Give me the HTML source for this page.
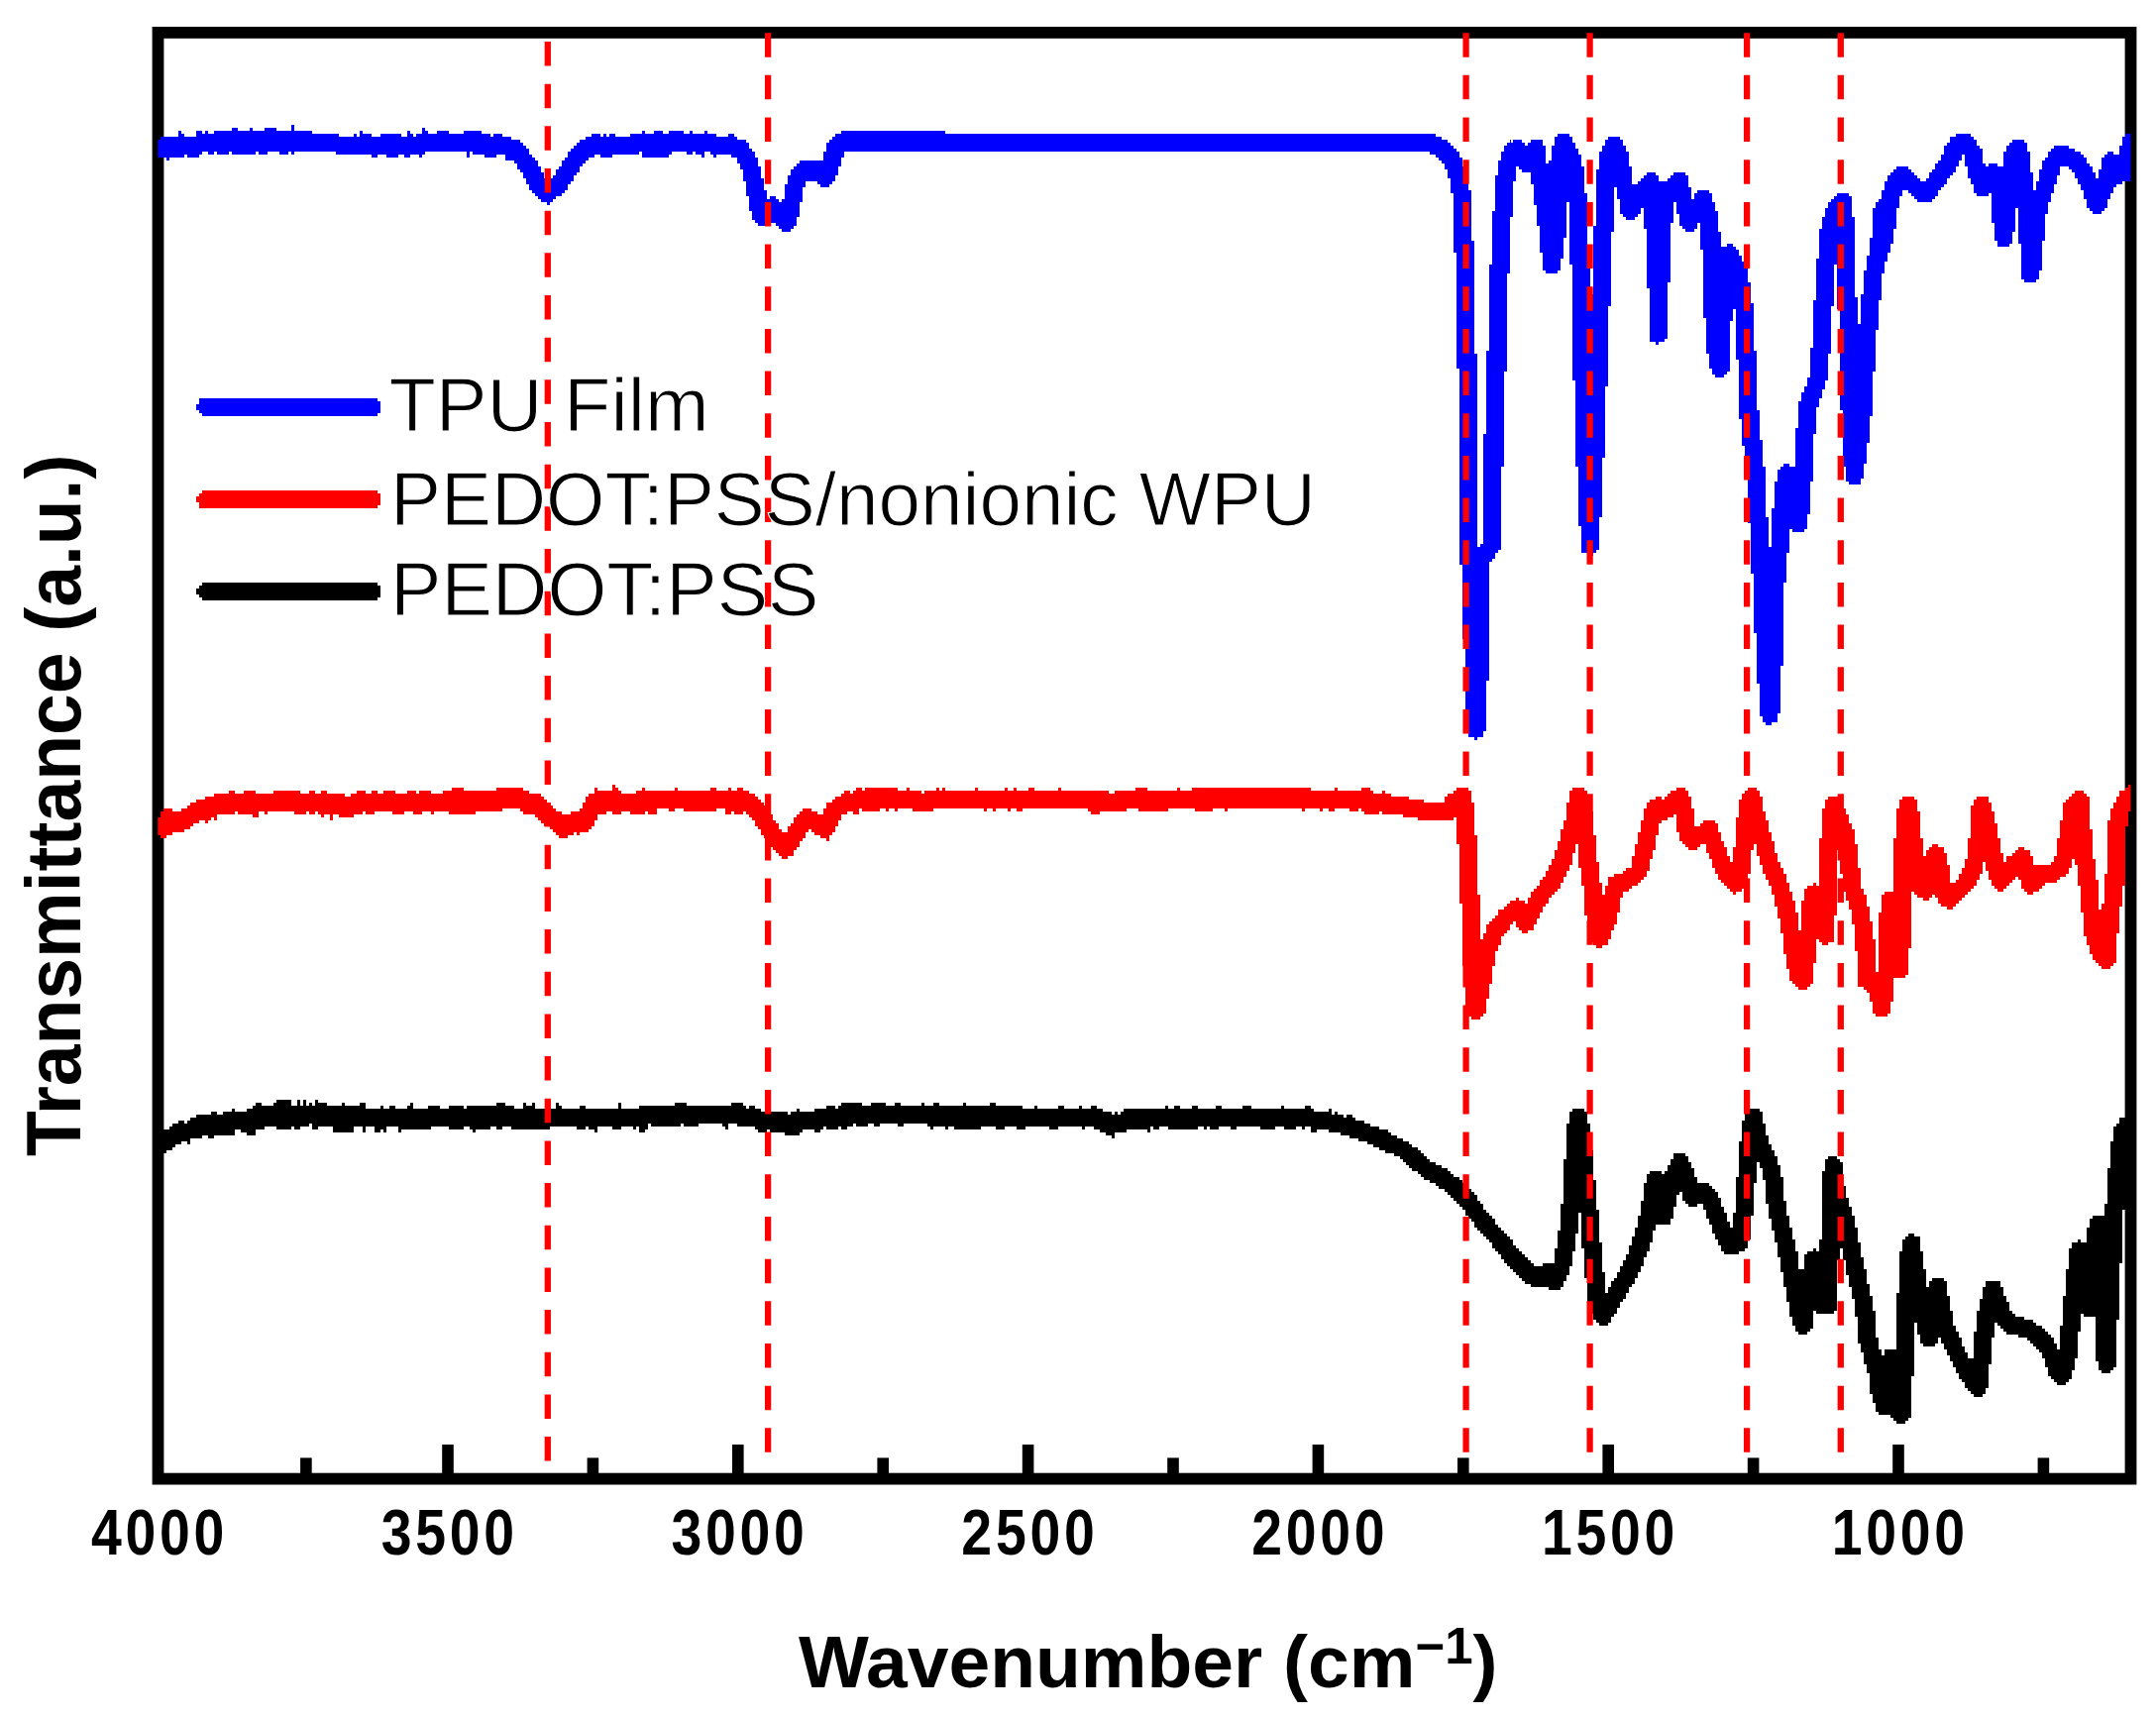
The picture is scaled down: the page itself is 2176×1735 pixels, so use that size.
<!DOCTYPE html>
<html><head><meta charset="utf-8"><title>FTIR spectra</title>
<style>html,body{margin:0;padding:0;background:#fff}svg{display:block}</style></head>
<body>
<svg width="2176" height="1735" viewBox="0 0 2176 1735">
<rect x="0" y="0" width="2176" height="1735" fill="#fff"/>
<rect x="159.5" y="32.9" width="1991.0" height="1459.6999999999998" fill="none" stroke="#000" stroke-width="11.8" stroke-linejoin="miter"/>
<rect x="446.2" y="1458" width="11.6" height="31" fill="#000"/>
<rect x="739.0" y="1458" width="11.6" height="31" fill="#000"/>
<rect x="1031.8" y="1458" width="11.6" height="31" fill="#000"/>
<rect x="1324.6" y="1458" width="11.6" height="31" fill="#000"/>
<rect x="1617.4" y="1458" width="11.6" height="31" fill="#000"/>
<rect x="1910.2" y="1458" width="11.6" height="31" fill="#000"/>
<rect x="303.1" y="1471.4" width="11.6" height="17" fill="#000"/>
<rect x="592.6" y="1471.4" width="11.6" height="17" fill="#000"/>
<rect x="885.4" y="1471.4" width="11.6" height="17" fill="#000"/>
<rect x="1178.2" y="1471.4" width="11.6" height="17" fill="#000"/>
<rect x="1471.0" y="1471.4" width="11.6" height="17" fill="#000"/>
<rect x="1763.8" y="1471.4" width="11.6" height="17" fill="#000"/>
<rect x="2056.6" y="1471.4" width="11.6" height="17" fill="#000"/>
<clipPath id="cl"><rect x="159.3" y="0" width="1991.2" height="1735"/></clipPath><filter id="px" filterUnits="userSpaceOnUse" x="150" y="90" width="2010" height="1380" color-interpolation-filters="sRGB"><feFlood x="151" y="91" width="1" height="1"/><feComposite width="3" height="3"/><feTile result="a"/><feComposite in="SourceGraphic" in2="a" operator="in"/><feMorphology operator="dilate" radius="1"/></filter><g clip-path="url(#cl)"><g filter="url(#px)" shape-rendering="crispEdges">
<path d="M159.2,1144.4V1144.4H162.3V1142.9H165.3V1138.5H168.4V1140.2H171.4V1138.9H174.5V1134.4H177.6V1133.1H180.6V1131.7H183.7V1130.8H186.7V1132.9H189.8V1132.0H192.9V1128.1H195.9V1127.2H199.0V1126.3H202.1V1125.4H205.1V1124.8H208.2V1124.3H211.2V1123.8H214.3V1123.2H217.4V1122.7H220.4V1125.3H223.5V1121.7H226.5V1121.2H229.6V1120.7H232.7V1120.3H235.7V1122.9H238.8V1122.4H241.9V1122.0H244.9V1121.5H248.0V1118.0H251.0V1117.6H254.1V1117.1H257.2V1113.6H260.2V1113.1H263.3V1115.8H266.3V1115.5H269.4V1115.2H272.5V1114.9H275.5V1111.5H278.6V1111.2H281.6V1110.9H284.7V1110.6H287.8V1110.3H290.8V1110.0H293.9V1115.9H297.0V1115.8H300.0V1109.7H303.1V1115.8H306.1V1109.7H309.2V1115.8H312.3V1112.7H315.3V1115.8H318.4V1109.7H321.4V1112.7H324.5V1112.7H327.6V1112.8H330.6V1116.2H333.7V1116.6H336.8V1116.9H339.8V1117.3H342.9V1117.7H345.9V1111.9H349.0V1115.3H352.1V1115.7H355.1V1116.0H358.2V1116.4H361.2V1116.5H364.3V1113.4H367.4V1113.4H370.4V1119.5H373.5V1119.5H376.6V1119.5H379.6V1119.5H382.7V1116.4H385.7V1119.4H388.8V1119.4H391.9V1116.3H394.9V1116.3H398.0V1119.3H401.0V1119.3H404.1V1119.3H407.2V1119.2H410.2V1116.2H413.3V1113.1H416.4V1119.2H419.4V1119.2H422.5V1119.1H425.5V1119.1H428.6V1119.1H431.7V1116.0H434.7V1116.0H437.8V1116.0H440.8V1115.9H443.9V1118.9H447.0V1118.8H450.0V1118.8H453.1V1115.6H456.1V1115.6H459.2V1115.5H462.3V1115.4H465.3V1115.3H468.4V1118.3H471.5V1115.2H474.5V1115.1H477.6V1115.0H480.6V1114.9H483.7V1114.9H486.8V1114.8H489.8V1114.7H492.9V1114.6H495.9V1114.6H499.0V1114.5H502.1V1114.4H505.1V1114.3H508.2V1114.4H511.3V1117.5H514.3V1117.5H517.4V1114.5H520.4V1117.6H523.5V1117.6H526.6V1111.6H529.6V1114.7H532.7V1114.7H535.7V1111.7H538.8V1117.9H541.9V1117.9H544.9V1117.9H548.0V1118.0H551.1V1118.0H554.1V1118.1H557.2V1118.1H560.2V1112.0H563.3V1115.1H566.4V1118.2H569.4V1118.3H572.5V1118.3H575.5V1118.3H578.6V1118.3H581.7V1118.3H584.7V1115.2H587.8V1115.2H590.9V1118.3H593.9V1118.3H597.0V1118.3H600.0V1118.3H603.1V1118.3H606.2V1118.3H609.2V1118.3H612.3V1118.3H615.3V1118.3H618.4V1118.3H621.5V1118.3H624.5V1112.2H627.6V1118.3H630.6V1118.3H633.7V1118.3H636.8V1118.2H639.8V1117.9H642.9V1117.7H646.0V1117.4H649.0V1117.1H652.1V1116.9H655.1V1116.6H658.2V1116.3H661.3V1116.1H664.3V1115.8H667.4V1115.5H670.4V1115.3H673.5V1115.0H676.6V1114.8H679.6V1114.5H682.7V1114.2H685.8V1114.2H688.8V1114.3H691.9V1114.5H694.9V1114.6H698.0V1114.8H701.1V1115.0H704.1V1115.1H707.2V1115.3H710.2V1115.4H713.3V1115.6H716.4V1115.7H719.4V1115.9H722.5V1116.0H725.6V1116.2H728.6V1116.4H731.7V1116.5H734.7V1116.7H737.8V1113.8H740.9V1113.9H743.9V1114.1H747.0V1114.2H750.0V1114.5H753.1V1118.1H756.2V1115.6H759.2V1116.2H762.3V1119.8H765.4V1120.4H768.4V1121.0H771.5V1121.5H774.5V1122.3H777.6V1123.2H780.7V1121.0H783.7V1121.8H786.8V1122.7H789.8V1122.7H792.9V1122.2H796.0V1124.7H799.0V1121.1H802.1V1120.6H805.1V1120.1H808.2V1122.6H811.3V1122.1H814.3V1121.6H817.4V1121.1H820.5V1120.6H823.5V1120.1H826.6V1119.7H829.6V1119.2H832.7V1115.8H835.8V1115.5H838.8V1115.2H841.9V1118.0H844.9V1114.7H848.0V1114.4H851.1V1114.2H854.1V1113.9H857.2V1113.6H860.3V1113.3H863.3V1113.1H866.4V1112.8H869.4V1115.6H872.5V1115.3H875.6V1115.0H878.6V1111.7H881.7V1114.5H884.7V1114.2H887.8V1114.2H890.9V1114.4H893.9V1114.5H897.0V1114.7H900.1V1114.9H903.1V1112.0H906.2V1112.2H909.2V1115.4H912.3V1115.6H915.4V1115.8H918.4V1115.9H921.5V1116.1H924.5V1116.3H927.6V1116.4H930.7V1113.6H933.7V1116.8H936.8V1117.0H939.8V1117.1H942.9V1114.3H946.0V1114.3H949.0V1117.4H952.1V1117.4H955.2V1117.4H958.2V1117.4H961.3V1117.4H964.3V1117.4H967.4V1117.4H970.5V1114.3H973.5V1117.4H976.6V1117.4H979.6V1117.4H982.7V1117.4H985.8V1117.4H988.8V1117.4H991.9V1117.4H995.0V1117.4H998.0V1114.3H1001.1V1114.3H1004.1V1117.4H1007.2V1117.4H1010.3V1117.4H1013.3V1117.4H1016.4V1117.4H1019.4V1117.4H1022.5V1117.4H1025.6V1117.4H1028.6V1117.5H1031.7V1117.5H1034.8V1117.6H1037.8V1117.7H1040.9V1117.7H1043.9V1114.7H1047.0V1117.8H1050.1V1117.9H1053.1V1118.0H1056.2V1118.0H1059.2V1118.1H1062.3V1118.2H1065.4V1118.2H1068.4V1115.2H1071.5V1115.3H1074.6V1118.4H1077.6V1118.5H1080.7V1118.5H1083.7V1118.6H1086.8V1118.7H1089.9V1115.7H1092.9V1118.8H1096.0V1118.8H1099.0V1118.9H1102.1V1115.9H1105.2V1116.8H1108.2V1118.3H1111.3V1119.8H1114.3V1121.3H1117.4V1122.8H1120.5V1123.8H1123.5V1122.8H1126.6V1124.9H1129.7V1123.9H1132.7V1119.8H1135.8V1118.8H1138.8V1117.7H1141.9V1117.5H1145.0V1120.4H1148.0V1120.4H1151.1V1120.3H1154.1V1120.2H1157.2V1120.1H1160.3V1120.0H1163.3V1119.9H1166.4V1119.8H1169.5V1119.7H1172.5V1119.7H1175.6V1116.5H1178.6V1119.5H1181.7V1119.4H1184.8V1116.3H1187.8V1116.2H1190.9V1119.1H1193.9V1119.1H1197.0V1119.0H1200.1V1118.9H1203.1V1115.7H1206.2V1115.6H1209.3V1118.6H1212.3V1118.5H1215.4V1118.4H1218.4V1118.4H1221.5V1118.3H1224.6V1118.3H1227.6V1115.2H1230.7V1115.2H1233.7V1118.3H1236.8V1118.3H1239.9V1118.3H1242.9V1118.3H1246.0V1118.3H1249.1V1118.3H1252.1V1118.3H1255.2V1115.2H1258.2V1115.2H1261.3V1115.2H1264.4V1118.3H1267.4V1118.3H1270.5V1118.3H1273.5V1118.3H1276.6V1118.3H1279.7V1118.3H1282.7V1118.3H1285.8V1118.3H1288.8V1118.3H1291.9V1115.2H1295.0V1118.3H1298.0V1118.3H1301.1V1118.3H1304.2V1118.3H1307.2V1118.3H1310.3V1118.3H1313.3V1118.6H1316.4V1116.1H1319.5V1116.6H1322.5V1120.2H1325.6V1120.7H1328.6V1121.2H1331.7V1121.7H1334.8V1122.2H1337.8V1122.8H1340.9V1120.2H1344.0V1123.8H1347.0V1121.7H1350.1V1125.6H1353.1V1126.6H1356.2V1127.5H1359.3V1125.3H1362.3V1126.3H1365.4V1127.2H1368.4V1131.2H1371.5V1132.1H1374.6V1133.0H1377.6V1134.1H1380.7V1135.5H1383.8V1136.9H1386.8V1138.3H1389.9V1139.7H1392.9V1141.1H1396.0V1142.5H1399.1V1140.9H1402.1V1142.3H1405.2V1146.7H1408.2V1148.1H1411.3V1149.5H1414.4V1150.9H1417.4V1153.1H1420.5V1155.7H1423.6V1158.3H1426.6V1160.9H1429.7V1163.4H1432.7V1166.0H1435.8V1168.6H1438.9V1187.0H1435.8V1184.4H1432.7V1181.8H1429.7V1179.3H1426.6V1176.7H1423.6V1174.1H1420.5V1171.5H1417.4V1169.3H1414.4V1167.9H1411.3V1166.5H1408.2V1165.1H1405.2V1163.7H1402.1V1162.3H1399.1V1160.9H1396.0V1159.5H1392.9V1158.1H1389.9V1156.7H1386.8V1155.3H1383.8V1153.9H1380.7V1152.5H1377.6V1151.4H1374.6V1150.5H1371.5V1149.6H1368.4V1148.7H1365.4V1147.7H1362.3V1146.8H1359.3V1145.9H1356.2V1145.0H1353.1V1144.0H1350.1V1143.1H1347.0V1142.2H1344.0V1141.7H1340.9V1141.2H1337.8V1140.6H1334.8V1140.1H1331.7V1139.6H1328.6V1142.2H1325.6V1141.6H1322.5V1138.1H1319.5V1137.5H1316.4V1140.1H1313.3V1136.7H1310.3V1136.7H1307.2V1139.8H1304.2V1139.8H1301.1V1139.8H1298.0V1139.8H1295.0V1136.7H1291.9V1136.7H1288.8V1136.7H1285.8V1139.8H1282.7V1139.8H1279.7V1139.8H1276.6V1139.8H1273.5V1139.8H1270.5V1136.7H1267.4V1136.7H1264.4V1136.7H1261.3V1136.7H1258.2V1136.7H1255.2V1136.7H1252.1V1136.7H1249.1V1139.8H1246.0V1139.8H1242.9V1136.7H1239.9V1136.7H1236.8V1136.7H1233.7V1136.7H1230.7V1139.8H1227.6V1139.8H1224.6V1139.8H1221.5V1136.8H1218.4V1139.9H1215.4V1136.9H1212.3V1137.0H1209.3V1140.2H1206.2V1140.3H1203.1V1140.3H1200.1V1140.4H1197.0V1140.5H1193.9V1140.6H1190.9V1140.7H1187.8V1140.8H1184.8V1140.9H1181.7V1140.9H1178.6V1138.0H1175.6V1138.1H1172.5V1138.1H1169.5V1141.3H1166.4V1141.4H1163.3V1138.4H1160.3V1141.6H1157.2V1138.6H1154.1V1138.7H1151.1V1138.8H1148.0V1138.8H1145.0V1138.9H1141.9V1139.2H1138.8V1140.2H1135.8V1144.3H1132.7V1142.3H1129.7V1143.3H1126.6V1144.3H1123.5V1148.4H1120.5V1147.3H1117.4V1142.8H1114.3V1141.3H1111.3V1139.7H1108.2V1138.2H1105.2V1137.4H1102.1V1137.3H1099.0V1137.2H1096.0V1140.2H1092.9V1137.1H1089.9V1137.1H1086.8V1137.0H1083.7V1136.9H1080.7V1136.9H1077.6V1136.8H1074.6V1136.7H1071.5V1136.7H1068.4V1139.7H1065.4V1139.6H1062.3V1139.6H1059.2V1136.4H1056.2V1136.4H1053.1V1136.3H1050.1V1136.2H1047.0V1136.2H1043.9V1136.1H1040.9V1136.1H1037.8V1136.0H1034.8V1139.0H1031.7V1138.9H1028.6V1138.9H1025.6V1135.8H1022.5V1135.8H1019.4V1135.8H1016.4V1135.8H1013.3V1138.9H1010.3V1138.9H1007.2V1138.9H1004.1V1135.8H1001.1V1135.8H998.0V1135.8H995.0V1135.8H991.9V1135.8H988.8V1138.9H985.8V1138.9H982.7V1138.9H979.6V1138.9H976.6V1138.9H973.5V1138.9H970.5V1138.9H967.4V1138.9H964.3V1135.8H961.3V1135.8H958.2V1138.9H955.2V1135.8H952.1V1135.8H949.0V1135.8H946.0V1135.7H942.9V1138.6H939.8V1138.4H936.8V1135.2H933.7V1135.0H930.7V1134.8H927.6V1134.7H924.5V1134.5H921.5V1134.3H918.4V1134.2H915.4V1134.0H912.3V1136.9H909.2V1136.7H906.2V1133.5H903.1V1133.3H900.1V1133.1H897.0V1132.9H893.9V1132.8H890.9V1132.6H887.8V1135.7H884.7V1136.0H881.7V1133.2H878.6V1133.4H875.6V1136.8H872.5V1137.0H869.4V1137.3H866.4V1137.6H863.3V1134.8H860.3V1138.1H857.2V1138.4H854.1V1138.7H851.1V1138.9H848.0V1136.2H844.9V1139.5H841.9V1139.8H838.8V1140.0H835.8V1140.3H832.7V1137.6H829.6V1141.1H826.6V1141.6H823.5V1142.1H820.5V1139.5H817.4V1140.0H814.3V1140.5H811.3V1144.1H808.2V1144.6H805.1V1145.1H802.1V1145.7H799.0V1146.2H796.0V1146.7H792.9V1144.2H789.8V1144.1H786.8V1143.3H783.7V1142.4H780.7V1141.6H777.6V1140.7H774.5V1143.0H771.5V1142.4H768.4V1141.9H765.4V1141.3H762.3V1137.7H759.2V1137.1H756.2V1136.5H753.1V1136.0H750.0V1135.7H747.0V1135.5H743.9V1135.4H740.9V1135.2H737.8V1135.1H734.7V1141.0H731.7V1137.8H728.6V1134.6H725.6V1134.4H722.5V1134.3H719.4V1134.1H716.4V1134.0H713.3V1133.8H710.2V1133.7H707.2V1133.5H704.1V1136.4H701.1V1136.3H698.0V1136.1H694.9V1136.0H691.9V1135.8H688.8V1132.6H685.8V1135.7H682.7V1136.0H679.6V1136.2H676.6V1136.5H673.5V1136.7H670.4V1137.0H667.4V1137.3H664.3V1137.5H661.3V1137.8H658.2V1135.0H655.1V1141.4H652.1V1141.7H649.0V1141.9H646.0V1136.1H642.9V1139.4H639.8V1136.6H636.8V1136.7H633.7V1136.7H630.6V1136.7H627.6V1139.8H624.5V1139.8H621.5V1139.8H618.4V1136.7H615.3V1136.7H612.3V1136.7H609.2V1136.7H606.2V1136.7H603.1V1142.8H600.0V1139.8H597.0V1139.8H593.9V1136.7H590.9V1139.8H587.8V1139.8H584.7V1139.8H581.7V1136.7H578.6V1136.7H575.5V1136.7H572.5V1136.7H569.4V1136.6H566.4V1136.6H563.3V1136.6H560.2V1136.5H557.2V1136.5H554.1V1139.5H551.1V1139.5H548.0V1139.4H544.9V1139.4H541.9V1139.3H538.8V1139.3H535.7V1139.2H532.7V1139.2H529.6V1139.2H526.6V1139.1H523.5V1139.1H520.4V1139.0H517.4V1135.9H514.3V1135.9H511.3V1135.8H508.2V1138.9H505.1V1138.9H502.1V1136.0H499.0V1136.0H495.9V1139.2H492.9V1139.2H489.8V1139.3H486.8V1139.4H483.7V1139.5H480.6V1142.6H477.6V1139.6H474.5V1136.6H471.5V1136.7H468.4V1139.8H465.3V1139.9H462.3V1140.0H459.2V1140.1H456.1V1140.2H453.1V1137.2H450.0V1137.2H447.0V1137.3H443.9V1137.4H440.8V1137.4H437.8V1137.4H434.7V1140.5H431.7V1140.5H428.6V1140.6H425.5V1140.6H422.5V1140.6H419.4V1140.6H416.4V1140.7H413.3V1140.7H410.2V1140.7H407.2V1140.7H404.1V1143.8H401.0V1137.7H398.0V1137.7H394.9V1137.8H391.9V1137.8H388.8V1143.9H385.7V1140.9H382.7V1144.0H379.6V1144.0H376.6V1137.9H373.5V1137.9H370.4V1144.1H367.4V1138.0H364.3V1138.0H361.2V1137.8H358.2V1143.6H355.1V1143.3H352.1V1142.9H349.0V1142.5H345.9V1142.2H342.9V1141.8H339.8V1141.5H336.8V1138.0H333.7V1137.7H330.6V1137.3H327.6V1137.3H324.5V1137.3H321.4V1140.3H318.4V1140.3H315.3V1134.2H312.3V1137.3H309.2V1137.3H306.1V1137.3H303.1V1140.3H300.0V1140.3H297.0V1137.3H293.9V1140.7H290.8V1141.0H287.8V1141.3H284.7V1138.5H281.6V1138.8H278.6V1136.1H275.5V1136.4H272.5V1136.7H269.4V1137.0H266.3V1140.3H263.3V1140.7H260.2V1141.2H257.2V1144.7H254.1V1145.1H251.0V1145.6H248.0V1143.0H244.9V1143.4H241.9V1140.8H238.8V1141.3H235.7V1144.8H232.7V1145.2H229.6V1145.7H226.5V1146.3H223.5V1146.8H220.4V1147.3H217.4V1147.8H214.3V1148.3H211.2V1145.7H208.2V1146.2H205.1V1146.9H202.1V1147.8H199.0V1148.7H195.9V1149.6H192.9V1153.5H189.8V1151.3H186.7V1152.2H183.7V1153.2H180.6V1154.5H177.6V1155.9H174.5V1160.3H171.4V1161.7H168.4V1163.0H165.3V1164.4H162.3V1162.8H159.2Z" fill="#000"/>
<path d="M160.0,1154.0 L163.0,1152.5 L182.5,1143.8 L205.0,1137.3 L231.0,1133.0 L263.6,1128.2 L296.0,1125.0 L328.6,1125.0 L361.0,1128.8 L442.0,1128.2 L507.0,1126.6 L572.0,1127.5 L637.0,1127.5 L685.7,1123.3 L750.6,1126.6 L773.4,1130.8 L789.6,1135.3 L815.6,1130.8 L832.5,1128.2 L887.7,1123.3 L946.0,1126.6 L1027.0,1126.6 L1105.0,1128.2 L1121.4,1136.3 L1141.0,1129.8 L1222.0,1127.5 L1313.0,1127.5 L1345.5,1133.0 L1378.0,1142.8 L1416.9,1160.6 L1440.0,1180.1 L1452.6,1186.3 L1465.1,1195.8 L1479.8,1209.4 L1490.3,1224.0 L1502.8,1239.7 L1513.3,1251.3 L1523.8,1264.9 L1536.3,1277.4 L1546.8,1287.9 L1553.1,1290.6 L1561.5,1283.7 L1568.2,1294.2 L1575.1,1282.7 L1579.3,1263.8 L1583.5,1237.6 L1586.6,1207.3 L1589.1,1163.3 L1591.2,1136.1 L1592.9,1127.3 L1595.0,1138.2 L1598.5,1173.8 L1601.7,1203.1 L1604.8,1236.6 L1607.5,1268.0 L1610.7,1299.4 L1613.8,1320.4 L1618.0,1328.1 L1628.5,1310.9 L1637.9,1294.6 L1647.3,1278.5 L1654.5,1260.5 L1659.9,1243.9 L1663.7,1228.2 L1668.3,1203.1 L1670.4,1190.1 L1674.6,1207.3 L1678.3,1227.6 L1684.0,1207.3 L1690.3,1184.2 L1695.9,1172.3 L1701.8,1188.4 L1708.1,1208.7 L1719.0,1202.7 L1725.9,1209.4 L1731.1,1224.0 L1736.3,1236.6 L1741.6,1249.2 L1746.8,1258.0 L1754.1,1255.4 L1757.3,1245.0 L1760.4,1217.7 L1763.6,1178.0 L1766.7,1142.4 L1769.8,1127.3 L1773.0,1144.5 L1778.2,1159.1 L1784.5,1171.7 L1788.1,1182.1 L1791.8,1203.1 L1790.9,1205.2 L1797.4,1236.6 L1803.5,1260.6 L1809.3,1291.0 L1815.6,1324.5 L1819.8,1337.5 L1822.9,1318.2 L1830.3,1270.5 L1834.9,1295.2 L1839.3,1318.2 L1845.3,1318.2 L1846.2,1278.4 L1847.0,1236.6 L1848.7,1194.7 L1850.1,1176.5 L1851.6,1194.7 L1856.4,1215.6 L1861.7,1228.2 L1869.8,1268.0 L1874.6,1288.9 L1882.0,1320.3 L1885.1,1351.7 L1894.3,1383.1 L1897.3,1404.1 L1901.9,1419.1 L1905.6,1393.6 L1909.2,1370.2 L1914.0,1399.9 L1918.6,1428.6 L1921.8,1383.1 L1924.5,1320.3 L1925.1,1278.4 L1929.1,1255.0 L1931.2,1268.0 L1934.3,1290.0 L1939.1,1320.3 L1945.4,1345.4 L1947.5,1350.7 L1950.6,1320.3 L1955.5,1297.9 L1959.6,1320.3 L1964.3,1342.3 L1972.0,1359.1 L1980.0,1375.2 L1987.3,1388.4 L1996.1,1401.3 L1997.8,1391.5 L2000.9,1360.1 L2004.5,1330.8 L2007.8,1316.1 L2011.4,1301.1 L2015.6,1311.9 L2020.8,1326.6 L2028.1,1337.1 L2037.5,1338.7 L2048.0,1342.3 L2056.4,1348.6 L2062.7,1353.8 L2067.9,1362.2 L2073.1,1372.7 L2076.3,1383.1 L2081.5,1388.8 L2084.6,1378.9 L2087.8,1362.2 L2089.5,1341.3 L2092.6,1309.8 L2095.7,1280.5 L2098.7,1261.3 L2104.1,1291.0 L2108.7,1320.3 L2112.9,1278.4 L2117.1,1235.5 L2121.3,1299.4 L2125.9,1377.3 L2129.0,1320.3 L2132.2,1257.5 L2135.9,1194.7 L2138.2,1173.8 L2142.2,1142.3 L2150.2,1131.9" fill="none" stroke="#000" stroke-width="18.4" stroke-linejoin="round" stroke-linecap="butt"/>
<path d="M159.2,825.5V825.5H162.3V818.4H165.3V817.4H168.4V816.4H171.4V815.4H174.5V820.6H177.6V819.6H180.6V818.6H183.7V817.4H186.7V816.1H189.8V811.8H192.9V810.5H195.9V809.3H199.0V808.1H202.1V807.0H205.1V806.0H208.2V804.9H211.2V803.9H214.3V802.8H217.4V801.7H220.4V800.7H223.5V799.7H226.5V802.4H229.6V799.0H232.7V798.7H235.7V801.4H238.8V801.1H241.9V800.8H244.9V797.4H248.0V797.0H251.0V796.7H254.1V796.5H257.2V799.6H260.2V799.6H263.3V799.6H266.3V799.6H269.4V799.6H272.5V799.6H275.5V796.5H278.6V796.5H281.6V796.5H284.7V796.5H287.8V796.5H290.8V796.5H293.9V796.5H297.0V796.8H300.0V797.0H303.1V800.3H306.1V800.6H309.2V800.9H312.3V798.1H315.3V798.3H318.4V801.6H321.4V801.9H324.5V799.1H327.6V799.4H330.6V799.6H333.7V799.9H336.8V800.2H339.8V800.4H342.9V800.7H345.9V800.5H349.0V803.3H352.1V803.1H355.1V799.7H358.2V799.5H361.2V799.2H364.3V798.9H367.4V798.7H370.4V801.5H373.5V798.1H376.6V797.9H379.6V800.7H382.7V800.4H385.7V797.1H388.8V796.8H391.9V796.5H394.9V796.6H398.0V799.7H401.0V799.7H404.1V799.8H407.2V799.8H410.2V796.8H413.3V796.9H416.4V796.9H419.4V800.0H422.5V797.0H425.5V797.1H428.6V797.1H431.7V797.2H434.7V800.3H437.8V800.3H440.8V800.4H443.9V800.4H447.0V797.4H450.0V797.4H453.1V797.5H456.1V794.5H459.2V794.3H462.3V794.1H465.3V793.9H468.4V796.7H471.5V796.5H474.5V799.4H477.6V799.2H480.6V799.0H483.7V798.8H486.8V798.6H489.8V798.4H492.9V798.1H495.9V797.9H499.0V797.7H502.1V794.5H505.1V794.3H508.2V794.5H511.3V794.8H514.3V795.1H517.4V795.4H520.4V795.8H523.5V796.1H526.6V799.4H529.6V796.7H532.7V800.1H535.7V800.4H538.8V801.3H541.9V801.1H544.9V804.0H548.0V806.8H551.1V809.7H554.1V812.6H557.2V818.3H560.2V817.8H563.3V820.4H566.4V823.0H569.4V822.7H572.5V821.3H575.5V819.9H578.6V818.5H581.7V817.5H584.7V816.9H587.8V816.3H590.9V814.9H593.9V808.3H597.0V801.6H600.0V796.2H603.1V799.3H606.2V799.4H609.2V799.4H612.3V799.4H615.3V799.4H618.4V793.3H621.5V796.4H624.5V799.5H627.6V799.5H630.6V799.6H633.7V799.6H636.8V799.6H639.8V799.5H642.9V799.5H646.0V799.4H649.0V796.3H652.1V799.3H655.1V799.2H658.2V799.1H661.3V799.1H664.3V799.0H667.4V799.0H670.4V798.9H673.5V798.8H676.6V798.8H679.6V795.7H682.7V798.7H685.8V798.6H688.8V798.5H691.9V798.5H694.9V798.4H698.0V798.3H701.1V798.3H704.1V798.4H707.2V798.5H710.2V798.5H713.3V798.6H716.4V795.6H719.4V795.7H722.5V798.9H725.6V798.9H728.6V799.0H731.7V799.1H734.7V796.1H737.8V799.2H740.9V799.3H743.9V796.3H747.0V796.4H750.0V796.5H753.1V797.1H756.2V800.0H759.2V805.9H762.3V808.8H765.4V811.7H768.4V816.7H771.5V818.7H774.5V823.8H777.6V827.8H780.7V831.6H783.7V835.3H786.8V839.0H789.8V842.8H792.9V845.6H796.0V837.8H799.0V833.1H802.1V828.4H805.1V823.7H808.2V819.1H811.3V817.6H814.3V817.0H817.4V819.1H820.5V821.1H823.5V823.2H826.6V822.1H829.6V824.2H832.7V817.3H835.8V817.3H838.8V811.3H841.9V807.7H844.9V805.8H848.0V800.9H851.1V799.0H854.1V797.4H857.2V800.0H860.3V799.5H863.3V795.9H866.4V795.5H869.4V798.0H872.5V794.5H875.6V794.0H878.6V793.5H881.7V793.5H884.7V793.7H887.8V793.9H890.9V794.1H893.9V794.3H897.0V794.5H900.1V794.7H903.1V794.9H906.2V798.1H909.2V798.3H912.3V798.5H915.4V795.7H918.4V798.9H921.5V799.1H924.5V799.3H927.6V799.5H930.7V799.5H933.7V799.4H936.8V799.2H939.8V799.1H942.9V798.9H946.0V795.7H949.0V798.7H952.1V795.5H955.2V798.4H958.2V798.3H961.3V798.1H964.3V798.0H967.4V797.8H970.5V797.7H973.5V797.6H976.6V797.4H979.6V797.4H982.7V794.3H985.8V797.4H988.8V797.4H991.9V797.4H995.0V797.4H998.0V797.4H1001.1V797.4H1004.1V797.4H1007.2V797.4H1010.3V797.4H1013.3V794.3H1016.4V797.4H1019.4V797.4H1022.5V794.3H1025.6V797.4H1028.6V797.5H1031.7V797.5H1034.8V797.6H1037.8V794.6H1040.9V794.7H1043.9V797.8H1047.0V797.9H1050.1V798.0H1053.1V798.0H1056.2V798.1H1059.2V798.2H1062.3V798.3H1065.4V798.3H1068.4V795.3H1071.5V798.5H1074.6V798.5H1077.6V798.6H1080.7V798.7H1083.7V798.8H1086.8V798.8H1089.9V798.9H1092.9V799.0H1096.0V799.0H1099.0V799.1H1102.1V799.2H1105.2V799.3H1108.2V799.3H1111.3V799.4H1114.3V799.5H1117.4V799.5H1120.5V799.6H1123.5V799.5H1126.6V799.3H1129.7V799.2H1132.7V799.1H1135.8V799.0H1138.8V798.9H1141.9V798.8H1145.0V795.6H1148.0V795.5H1151.1V795.4H1154.1V795.2H1157.2V798.2H1160.3V798.1H1163.3V798.0H1166.4V797.8H1169.5V797.7H1172.5V797.6H1175.6V797.5H1178.6V797.4H1181.7V797.3H1184.8V797.1H1187.8V794.0H1190.9V796.9H1193.9V796.8H1197.0V796.7H1200.1V796.6H1203.1V796.4H1206.2V796.4H1209.3V796.4H1212.3V796.4H1215.4V796.4H1218.4V796.4H1221.5V796.4H1224.6V796.4H1227.6V796.4H1230.7V796.4H1233.7V796.4H1236.8V796.4H1239.9V796.4H1242.9V796.4H1246.0V796.4H1249.1V796.4H1252.1V796.4H1255.2V796.4H1258.2V796.4H1261.3V796.4H1264.4V796.4H1267.4V796.4H1270.5V796.4H1273.5V796.4H1276.6V796.4H1279.7V796.4H1282.7V796.4H1285.8V796.4H1288.8V796.4H1291.9V796.4H1295.0V796.4H1298.0V796.4H1301.1V796.4H1304.2V796.4H1307.2V796.4H1310.3V796.4H1313.3V796.4H1316.4V796.4H1319.5V796.5H1322.5V796.6H1325.6V796.8H1328.6V796.9H1331.7V797.1H1334.8V797.2H1337.8V797.4H1340.9V797.5H1344.0V797.7H1347.0V794.8H1350.1V798.0H1353.1V798.1H1356.2V798.3H1359.3V798.4H1362.3V798.6H1365.4V798.7H1368.4V798.9H1371.5V799.0H1374.6V796.1H1377.6V796.3H1380.7V796.4H1383.8V796.7H1386.8V800.2H1389.9V800.7H1392.9V801.2H1396.0V798.6H1399.1V823.2H1396.0V819.6H1392.9V822.2H1389.9V821.7H1386.8V821.2H1383.8V821.0H1380.7V820.8H1377.6V817.6H1374.6V817.4H1371.5V820.4H1368.4V820.2H1365.4V820.0H1362.3V816.8H1359.3V816.7H1356.2V816.5H1353.1V816.4H1350.1V816.2H1347.0V819.1H1344.0V819.0H1340.9V815.8H1337.8V815.6H1334.8V818.5H1331.7V815.3H1328.6V815.2H1325.6V815.0H1322.5V814.9H1319.5V814.8H1316.4V817.9H1313.3V814.8H1310.3V814.8H1307.2V814.8H1304.2V814.8H1301.1V814.8H1298.0V814.8H1295.0V814.8H1291.9V814.8H1288.8V814.8H1285.8V814.8H1282.7V814.8H1279.7V814.8H1276.6V814.8H1273.5V814.8H1270.5V814.8H1267.4V814.8H1264.4V814.8H1261.3V814.8H1258.2V814.8H1255.2V814.8H1252.1V814.8H1249.1V814.8H1246.0V814.8H1242.9V814.8H1239.9V817.9H1236.8V814.8H1233.7V814.8H1230.7V814.8H1227.6V814.8H1224.6V817.9H1221.5V817.9H1218.4V817.9H1215.4V817.9H1212.3V817.9H1209.3V817.9H1206.2V814.8H1203.1V815.0H1200.1V815.1H1197.0V815.2H1193.9V815.3H1190.9V815.4H1187.8V815.5H1184.8V815.7H1181.7V815.8H1178.6V818.9H1175.6V819.1H1172.5V819.2H1169.5V819.3H1166.4V819.4H1163.3V819.5H1160.3V819.6H1157.2V819.8H1154.1V819.9H1151.1V820.0H1148.0V817.0H1145.0V817.2H1141.9V817.3H1138.8V817.4H1135.8V817.5H1132.7V817.6H1129.7V817.7H1126.6V817.9H1123.5V818.0H1120.5V817.9H1117.4V817.9H1114.3V817.8H1111.3V820.8H1108.2V820.7H1105.2V820.6H1102.1V817.5H1099.0V817.4H1096.0V817.4H1092.9V817.3H1089.9V817.2H1086.8V817.2H1083.7V817.1H1080.7V817.0H1077.6V816.9H1074.6V816.9H1071.5V816.8H1068.4V816.7H1065.4V816.7H1062.3V816.6H1059.2V816.5H1056.2V816.4H1053.1V816.4H1050.1V816.3H1047.0V816.2H1043.9V816.2H1040.9V816.1H1037.8V816.0H1034.8V815.9H1031.7V818.9H1028.6V818.9H1025.6V815.8H1022.5V815.8H1019.4V818.9H1016.4V815.8H1013.3V815.8H1010.3V815.8H1007.2V815.8H1004.1V818.9H1001.1V815.8H998.0V815.8H995.0V818.9H991.9V815.8H988.8V815.8H985.8V815.8H982.7V815.8H979.6V815.8H976.6V816.0H973.5V816.1H970.5V816.2H967.4V816.4H964.3V816.5H961.3V816.7H958.2V816.8H955.2V816.9H952.1V817.1H949.0V817.2H946.0V817.3H942.9V817.5H939.8V817.6H936.8V817.8H933.7V817.9H930.7V817.9H927.6V817.7H924.5V817.5H921.5V817.3H918.4V817.1H915.4V816.9H912.3V816.7H909.2V816.5H906.2V819.4H903.1V816.1H900.1V815.9H897.0V818.8H893.9V815.5H890.9V815.3H887.8V818.2H884.7V818.0H881.7V818.0H878.6V818.5H875.6V819.0H872.5V819.5H869.4V816.9H866.4V820.5H863.3V821.0H860.3V818.4H857.2V818.9H854.1V820.5H851.1V822.3H848.0V824.2H844.9V832.2H841.9V835.8H838.8V841.8H835.8V847.9H832.7V845.6H829.6V843.6H826.6V841.6H823.5V839.5H820.5V837.5H817.4V835.4H814.3V836.0H811.3V843.7H808.2V848.2H805.1V852.9H802.1V857.6H799.0V862.3H796.0V867.1H792.9V864.2H789.8V860.5H786.8V859.8H783.7V856.1H780.7V852.3H777.6V848.4H774.5V843.3H771.5V835.1H768.4V833.1H765.4V830.3H762.3V827.4H759.2V821.5H756.2V818.6H753.1V817.9H750.0V820.9H747.0V820.8H743.9V820.8H740.9V817.6H737.8V820.6H734.7V820.5H731.7V817.4H728.6V817.3H725.6V817.3H722.5V820.2H719.4V820.2H716.4V820.1H713.3V820.0H710.2V819.9H707.2V819.9H704.1V819.8H701.1V819.8H698.0V819.9H694.9V819.9H691.9V820.0H688.8V817.0H685.8V817.1H682.7V817.1H679.6V820.2H676.6V820.3H673.5V817.3H670.4V817.4H667.4V817.4H664.3V820.5H661.3V820.6H658.2V820.7H655.1V817.7H652.1V820.8H649.0V820.9H646.0V820.9H642.9V821.0H639.8V821.0H636.8V818.0H633.7V818.0H630.6V817.9H627.6V821.0H624.5V820.9H621.5V820.9H618.4V817.8H615.3V817.8H612.3V820.8H609.2V820.8H606.2V820.8H603.1V820.8H600.0V826.2H597.0V832.8H593.9V839.4H590.9V840.8H587.8V841.4H584.7V842.0H581.7V840.0H578.6V841.4H575.5V842.8H572.5V844.2H569.4V844.4H566.4V841.8H563.3V839.2H560.2V836.7H557.2V834.1H554.1V831.2H551.1V828.3H548.0V825.4H544.9V822.6H541.9V819.7H538.8V818.8H535.7V821.5H532.7V821.2H529.6V820.9H526.6V817.5H523.5V817.2H520.4V816.9H517.4V816.6H514.3V816.3H511.3V816.0H508.2V818.8H505.1V819.0H502.1V819.2H499.0V819.4H495.9V819.6H492.9V819.8H489.8V820.0H486.8V820.2H483.7V820.4H480.6V820.6H477.6V820.8H474.5V821.1H471.5V821.3H468.4V821.5H465.3V821.7H462.3V821.9H459.2V822.1H456.1V822.0H453.1V818.9H450.0V818.9H447.0V818.8H443.9V818.8H440.8V818.7H437.8V821.7H434.7V818.6H431.7V818.6H428.6V818.5H425.5V821.5H422.5V821.5H419.4V821.4H416.4V818.3H413.3V818.3H410.2V818.2H407.2V821.2H404.1V821.2H401.0V821.2H398.0V821.1H394.9V818.0H391.9V818.3H388.8V818.5H385.7V818.8H382.7V819.1H379.6V819.3H376.6V822.7H373.5V822.9H370.4V820.1H367.4V820.4H364.3V820.7H361.2V820.9H358.2V824.3H355.1V824.5H352.1V824.8H349.0V825.0H345.9V825.2H342.9V821.9H339.8V821.6H336.8V827.5H333.7V821.1H330.6V820.8H327.6V823.6H324.5V823.4H321.4V820.0H318.4V822.8H315.3V822.6H312.3V819.3H309.2V822.1H306.1V821.8H303.1V821.5H300.0V821.3H297.0V818.0H293.9V818.0H290.8V818.0H287.8V818.0H284.7V818.0H281.6V818.0H278.6V818.0H275.5V818.0H272.5V818.0H269.4V821.1H266.3V818.0H263.3V818.0H260.2V824.1H257.2V824.1H254.1V821.2H251.0V821.6H248.0V821.9H244.9V822.2H241.9V822.6H238.8V819.8H235.7V823.2H232.7V820.5H229.6V820.8H226.5V821.2H223.5V822.2H220.4V829.3H217.4V824.3H214.3V828.4H211.2V829.5H208.2V827.4H205.1V828.5H202.1V829.6H199.0V830.7H195.9V832.0H192.9V836.3H189.8V837.6H186.7V838.8H183.7V840.1H180.6V841.1H177.6V839.0H174.5V843.0H171.4V844.0H168.4V845.0H165.3V846.0H162.3V843.9H159.2Z" fill="#ff0000"/>
<path d="M159.7,835.0 L182.5,827.7 L198.7,821.0 L224.7,812.0 L254.0,808.8 L296.0,808.8 L345.0,813.0 L393.5,808.8 L458.0,809.8 L507.0,806.5 L539.6,809.8 L555.8,825.0 L568.8,836.0 L581.8,830.0 L592.0,828.0 L598.0,815.0 L601.0,808.5 L637.0,808.8 L702.0,807.5 L754.0,808.8 L767.0,821.0 L776.6,837.0 L793.0,857.0 L806.0,837.0 L814.0,825.0 L832.0,837.0 L841.6,818.0 L855.0,809.8 L881.0,805.6 L930.0,808.8 L978.6,806.6 L1027.0,806.6 L1121.4,808.8 L1205.8,805.6 L1319.5,805.6 L1384.4,808.8 L1416.9,814.0 L1436.4,818.0 L1459.0,818.6 L1461.7,818.4 L1468.4,808.4 L1476.7,804.1 L1479.7,831.8 L1482.7,890.2 L1485.8,960.4 L1488.4,1002.1 L1490.1,1019.8 L1494.9,993.8 L1497.8,977.1 L1501.1,960.4 L1508.6,940.3 L1520.6,925.3 L1531.0,916.5 L1540.2,931.8 L1552.7,906.9 L1564.9,892.2 L1575.6,872.2 L1581.8,853.5 L1586.9,835.1 L1589.6,825.1 L1592.8,804.1 L1598.8,826.8 L1601.6,860.2 L1604.6,880.2 L1607.8,901.9 L1610.6,935.3 L1615.3,946.8 L1622.0,928.6 L1624.5,918.6 L1627.0,906.9 L1632.0,891.9 L1639.5,890.2 L1648.7,884.4 L1653.7,879.4 L1656.4,870.7 L1660.9,853.5 L1664.1,839.0 L1667.1,828.3 L1670.1,815.1 L1675.4,814.3 L1680.4,817.6 L1685.4,815.1 L1690.5,808.4 L1696.0,804.1 L1699.3,815.1 L1701.3,830.1 L1703.8,843.5 L1708.8,848.5 L1717.2,841.8 L1725.0,837.1 L1731.4,855.7 L1737.2,870.2 L1743.1,882.4 L1751.4,892.4 L1756.4,880.2 L1759.8,853.5 L1762.9,823.4 L1765.6,808.4 L1767.8,804.1 L1772.4,825.1 L1777.3,840.1 L1781.3,853.5 L1782.5,859.2 L1788.6,877.7 L1794.8,890.4 L1800.6,908.0 L1805.9,929.5 L1809.1,951.6 L1812.1,970.1 L1816.1,986.5 L1819.7,990.2 L1821.2,977.7 L1824.4,957.4 L1827.2,918.6 L1830.2,901.5 L1836.4,918.6 L1842.6,944.0 L1843.8,909.8 L1845.4,865.7 L1847.9,830.5 L1850.5,812.7 L1857.5,830.5 L1861.2,837.5 L1864.1,851.6 L1867.1,876.3 L1870.1,897.5 L1875.2,909.8 L1879.0,929.2 L1882.4,948.6 L1883.1,971.5 L1884.0,989.1 L1891.0,992.6 L1896.3,1003.2 L1899.0,1017.5 L1901.6,1003.2 L1905.5,962.7 L1906.2,927.4 L1908.3,907.7 L1913.9,936.2 L1917.5,979.4 L1918.7,945.1 L1919.2,901.0 L1921.5,848.1 L1923.6,821.7 L1926.3,812.7 L1927.9,825.2 L1931.0,851.6 L1934.2,879.8 L1939.5,896.6 L1943.9,899.1 L1947.4,883.4 L1951.0,867.5 L1954.0,862.0 L1957.1,872.8 L1960.6,892.2 L1964.2,906.3 L1966.8,907.9 L1973.9,901.9 L1982.7,893.1 L1989.7,881.6 L1994.1,865.7 L1996.8,844.6 L1998.5,821.7 L1999.8,812.7 L2002.9,823.4 L2006.5,837.5 L2010.0,853.4 L2012.6,869.3 L2016.2,883.4 L2019.2,889.7 L2026.7,881.6 L2033.8,871.0 L2040.8,865.0 L2046.1,879.8 L2050.0,892.9 L2060.2,881.6 L2070.8,881.6 L2079.6,876.3 L2083.3,865.7 L2086.5,848.1 L2089.5,828.7 L2092.5,812.9 L2099.0,806.9 L2099.9,818.2 L2102.0,848.1 L2105.0,874.6 L2108.0,893.9 L2111.0,923.9 L2114.0,945.1 L2120.1,962.7 L2126.1,968.7 L2128.1,945.1 L2130.7,918.6 L2134.2,897.5 L2135.3,865.7 L2136.9,834.0 L2140.4,818.2 L2145.7,806.7 L2151.9,801.9 L2155.4,800.9" fill="none" stroke="#ff0000" stroke-width="18.4" stroke-linejoin="round" stroke-linecap="butt"/>
<path d="M159.2,139.7V139.7H162.3V139.5H165.3V139.3H168.4V139.0H171.4V138.8H174.5V138.5H177.6V138.3H180.6V131.9H183.7V134.8H186.7V137.6H189.8V137.4H192.9V137.1H195.9V136.7H199.0V133.4H202.1V133.1H205.1V135.8H208.2V132.4H211.2V135.2H214.3V134.9H217.4V131.5H220.4V131.2H223.5V130.9H226.5V133.6H229.6V133.3H232.7V130.2H235.7V130.2H238.8V133.3H241.9V133.2H244.9V133.2H248.0V133.2H251.0V130.2H254.1V133.2H257.2V133.2H260.2V133.2H263.3V133.2H266.3V130.1H269.4V130.1H272.5V130.1H275.5V130.1H278.6V133.1H281.6V133.2H284.7V133.3H287.8V133.3H290.8V133.4H293.9V127.4H297.0V130.5H300.0V130.6H303.1V130.7H306.1V130.7H309.2V130.8H312.3V130.9H315.3V134.0H318.4V134.2H321.4V134.5H324.5V134.8H327.6V135.1H330.6V135.4H333.7V135.7H336.8V136.0H339.8V136.3H342.9V136.6H345.9V136.9H349.0V137.3H352.1V137.3H355.1V137.3H358.2V134.2H361.2V137.3H364.3V131.2H367.4V134.2H370.4V134.2H373.5V137.3H376.6V137.3H379.6V137.3H382.7V134.2H385.7V134.2H388.8V134.2H391.9V134.2H394.9V134.2H398.0V134.2H401.0V134.2H404.1V137.3H407.2V137.3H410.2V131.1H413.3V133.9H416.4V136.8H419.4V136.5H422.5V136.3H425.5V130.0H428.6V132.9H431.7V135.7H434.7V135.5H437.8V135.3H440.8V132.0H443.9V132.1H447.0V132.2H450.0V132.2H453.1V135.4H456.1V135.4H459.2V135.5H462.3V135.6H465.3V135.6H468.4V132.6H471.5V132.7H474.5V132.8H477.6V133.0H480.6V133.2H483.7V133.4H486.8V133.7H489.8V133.9H492.9V134.1H495.9V137.3H499.0V134.5H502.1V134.7H505.1V134.9H508.2V138.6H511.3V139.2H514.3V139.9H517.4V140.6H520.4V143.4H523.5V144.3H526.6V148.3H529.6V152.3H532.7V157.0H535.7V162.9H538.8V168.7H541.9V177.2H544.9V177.2H548.0V180.2H551.1V184.7H554.1V182.8H557.2V180.9H560.2V178.9H563.3V171.8H566.4V170.6H569.4V163.2H572.5V158.8H575.5V157.4H578.6V153.0H581.7V149.1H584.7V146.0H587.8V143.0H590.9V137.5H593.9V136.8H597.0V136.1H600.0V135.4H603.1V134.7H606.2V137.7H609.2V134.5H612.3V137.4H615.3V134.2H618.4V134.1H621.5V137.0H624.5V136.9H627.6V136.8H630.6V136.7H633.7V136.5H636.8V136.4H639.8V136.3H642.9V136.2H646.0V136.0H649.0V132.8H652.1V135.8H655.1V135.7H658.2V135.7H661.3V132.6H664.3V132.6H667.4V132.5H670.4V135.5H673.5V132.4H676.6V132.4H679.6V132.3H682.7V132.3H685.8V132.2H688.8V135.3H691.9V135.2H694.9V132.1H698.0V135.1H701.1V135.1H704.1V135.4H707.2V135.6H710.2V132.7H713.3V136.0H716.4V136.2H719.4V136.4H722.5V136.6H725.6V136.8H728.6V137.0H731.7V137.2H734.7V134.8H737.8V135.7H740.9V136.5H743.9V140.4H747.0V143.2H750.0V144.9H753.1V149.6H756.2V158.7H759.2V170.0H762.3V184.4H765.4V200.0H768.4V206.1H771.5V203.8H774.5V201.6H777.6V199.4H780.7V198.3H783.7V202.2H786.8V206.0H789.8V209.9H792.9V210.4H796.0V200.3H799.0V185.8H802.1V175.4H805.1V167.3H808.2V164.4H811.3V161.5H814.3V161.5H817.4V161.8H820.5V162.2H823.5V161.1H826.6V163.4H829.6V165.6H832.7V165.5H835.8V159.7H838.8V150.4H841.9V137.6H844.9V133.9H848.0V155.4H844.9V162.1H841.9V171.9H838.8V181.1H835.8V186.9H832.7V187.1H829.6V184.8H826.6V182.6H823.5V183.7H820.5V183.3H817.4V182.9H814.3V179.9H811.3V185.9H808.2V188.7H805.1V193.8H802.1V204.2H799.0V221.8H796.0V234.9H792.9V234.4H789.8V230.6H786.8V226.7H783.7V219.8H780.7V220.9H777.6V223.1H774.5V228.4H771.5V227.5H768.4V221.5H765.4V205.8H762.3V191.5H759.2V180.2H756.2V171.1H753.1V166.3H750.0V161.6H747.0V158.8H743.9V158.0H740.9V157.1H737.8V156.3H734.7V155.6H731.7V155.4H728.6V155.2H725.6V155.0H722.5V157.9H719.4V154.6H716.4V154.4H713.3V154.2H710.2V160.1H707.2V156.8H704.1V156.6H701.1V153.5H698.0V156.6H694.9V156.7H691.9V153.7H688.8V153.7H685.8V153.8H682.7V153.8H679.6V153.8H676.6V156.9H673.5V160.1H670.4V160.1H667.4V160.1H664.3V160.2H661.3V160.2H658.2V160.3H655.1V160.3H652.1V160.4H649.0V154.4H646.0V154.6H642.9V154.7H639.8V154.8H636.8V154.9H633.7V155.1H630.6V155.2H627.6V155.3H624.5V155.4H621.5V155.6H618.4V158.8H615.3V158.9H612.3V159.0H609.2V159.1H606.2V156.2H603.1V156.9H600.0V157.6H597.0V158.3H593.9V162.1H590.9V161.4H587.8V164.4H584.7V170.6H581.7V174.5H578.6V178.9H575.5V180.3H572.5V184.7H569.4V189.0H566.4V193.2H563.3V197.3H560.2V199.3H557.2V204.2H554.1V206.1H551.1V204.7H548.0V201.7H544.9V195.6H541.9V190.1H538.8V184.3H535.7V178.5H532.7V173.8H529.6V172.8H526.6V168.8H523.5V161.8H520.4V159.0H517.4V161.4H514.3V160.7H511.3V157.0H508.2V156.4H505.1V156.2H502.1V159.0H499.0V158.8H495.9V158.6H492.9V158.4H489.8V155.1H486.8V154.9H483.7V154.7H480.6V154.5H477.6V154.3H474.5V160.3H471.5V154.1H468.4V154.0H465.3V154.0H462.3V153.9H459.2V153.8H456.1V153.8H453.1V153.7H450.0V153.6H447.0V153.6H443.9V153.5H440.8V153.7H437.8V153.9H434.7V154.1H431.7V154.3H428.6V154.5H425.5V157.8H422.5V154.9H419.4V155.2H416.4V155.4H413.3V158.6H410.2V158.8H407.2V155.7H404.1V155.7H401.0V158.8H398.0V158.8H394.9V158.8H391.9V158.8H388.8V155.7H385.7V155.7H382.7V155.7H379.6V158.8H376.6V158.8H373.5V155.7H370.4V155.7H367.4V155.7H364.3V155.7H361.2V155.7H358.2V155.7H355.1V155.7H352.1V155.7H349.0V155.3H345.9V155.0H342.9V154.7H339.8V154.4H336.8V154.1H333.7V153.8H330.6V153.5H327.6V153.2H324.5V152.9H321.4V152.6H318.4V152.4H315.3V152.4H312.3V152.3H309.2V152.2H306.1V152.1H303.1V152.1H300.0V152.0H297.0V155.0H293.9V151.8H290.8V154.8H287.8V154.7H284.7V154.6H281.6V151.5H278.6V151.5H275.5V151.5H272.5V151.5H269.4V154.6H266.3V154.6H263.3V154.6H260.2V151.6H257.2V154.7H254.1V154.7H251.0V154.7H248.0V154.7H244.9V154.7H241.9V154.7H238.8V154.7H235.7V154.7H232.7V151.7H229.6V155.1H226.5V155.4H223.5V155.7H220.4V152.9H217.4V156.3H214.3V156.6H211.2V153.9H208.2V154.2H205.1V154.5H202.1V157.9H199.0V158.2H195.9V158.5H192.9V158.8H189.8V156.0H186.7V159.3H183.7V159.5H180.6V159.8H177.6V160.0H174.5V160.2H171.4V160.5H168.4V157.7H165.3V157.9H162.3V158.1H159.2Z" fill="#0000ff"/>
<path d="M1894.6,263.2 L1897.5,251.7 L1897.9,228.6 L1900.8,210.4" fill="none" stroke="#0000ff" stroke-width="18.4" stroke-linejoin="round" stroke-linecap="round"/>
<path d="M160.0,149.0 L192.0,146.5 L231.0,142.5 L280.0,142.3 L319.0,143.3 L351.0,146.5 L410.0,146.5 L442.0,144.3 L475.0,145.0 L507.0,147.2 L520.0,150.0 L533.0,167.0 L543.0,186.0 L551.6,194.5 L562.0,188.0 L572.0,174.0 L582.0,159.5 L591.5,150.0 L604.5,147.0 L653.0,145.0 L702.0,144.3 L734.0,146.5 L747.0,150.0 L755.7,163.5 L762.7,189.5 L765.9,209.9 L769.6,218.6 L781.6,209.9 L793.7,225.1 L798.3,209.9 L801.1,191.3 L806.7,176.5 L813.2,170.4 L822.4,171.5 L833.6,179.6 L839.1,163.5 L843.8,148.6 L850.3,142.7 L900.0,142.6 L1000.0,142.8 L1110.0,143.0 L1119.0,144.5 L1130.0,143.0 L1250.0,142.8 L1400.0,143.0 L1425.0,143.5 L1430.0,143.8 L1446.3,145.5 L1456.9,151.5 L1465.5,161.4 L1471.3,176.8 L1475.1,196.0 L1477.0,234.4 L1478.4,272.8 L1479.9,340.0 L1481.5,403.4 L1482.8,430.1 L1482.6,546.6 L1485.5,609.4 L1488.6,702.6 L1489.5,736.5 L1491.8,727.7 L1492.8,651.3 L1493.9,588.4 L1494.5,565.4 L1506.8,549.1 L1507.0,525.6 L1507.5,439.8 L1509.5,415.0 L1511.6,309.3 L1514.9,244.0 L1517.9,193.1 L1520.6,171.0 L1525.0,155.7 L1531.4,149.5 L1540.4,164.3 L1550.0,149.5 L1555.8,186.4 L1562.5,234.4 L1566.3,267.1 L1571.1,234.4 L1572.5,188.3 L1574.0,157.6 L1578.4,143.2 L1587.5,163.4 L1590.9,188.3 L1593.2,227.7 L1596.3,307.4 L1598.6,430.1 L1604.8,551.2 L1610.9,430.1 L1613.4,359.2 L1615.9,292.0 L1618.2,234.4 L1620.7,200.8 L1621.6,173.0 L1624.3,155.7 L1629.1,146.3 L1634.5,157.6 L1638.3,182.6 L1645.4,212.3 L1654.7,197.9 L1666.2,182.8 L1670.0,234.4 L1672.7,292.0 L1673.3,337.5 L1675.0,292.0 L1677.7,232.5 L1679.6,207.5 L1685.4,190.2 L1694.6,182.8 L1700.7,207.5 L1705.0,224.4 L1712.3,211.4 L1719.0,201.0 L1724.7,219.0 L1726.3,234.4 L1727.8,294.9 L1731.1,341.0 L1733.4,365.0 L1735.7,371.1 L1736.1,359.2 L1738.6,320.8 L1741.1,282.4 L1744.9,256.1 L1754.5,272.8 L1759.9,311.2 L1763.1,368.8 L1766.0,430.1 L1770.9,462.8 L1774.6,525.6 L1778.2,588.4 L1781.3,651.3 L1784.5,703.6 L1786.2,721.8 L1789.1,678.5 L1792.2,588.4 L1795.2,560.2 L1797.3,529.8 L1800.2,494.2 L1803.3,477.7 L1807.1,483.8 L1811.3,517.3 L1814.9,528.1 L1818.0,504.7 L1820.7,462.8 L1822.8,431.4 L1825.3,408.4 L1836.1,378.4 L1839.2,326.6 L1842.4,276.7 L1845.7,238.2 L1848.6,222.9 L1853.4,210.4 L1859.5,203.9 L1861.4,219.0 L1863.7,282.4 L1866.0,350.0 L1867.5,410.0 L1870.0,450.0 L1871.0,481.0 L1873.0,470.0 L1876.0,449.0 L1879.0,420.0 L1882.0,402.0 L1878.7,416.8 L1882.0,378.4 L1885.0,334.3 L1888.3,301.6 L1891.2,276.7 L1894.3,261.3 L1898.5,249.8 L1902.3,238.2 L1904.6,219.0 L1908.1,199.8 L1912.9,184.5 L1918.6,176.4 L1928.2,184.5 L1942.6,196.0 L1953.2,184.5 L1962.8,170.7 L1969.0,161.3 L1972.0,150.3 L1977.2,144.5 L1983.9,143.2 L1991.0,154.7 L1994.1,170.3 L2001.2,189.3 L2010.8,174.5 L2016.6,176.8 L2019.5,213.3 L2022.7,240.2 L2025.6,215.2 L2029.1,176.8 L2031.9,157.6 L2036.4,149.2 L2039.6,159.5 L2042.5,186.4 L2046.9,234.4 L2049.8,276.7 L2052.9,245.9 L2055.9,215.2 L2061.7,196.0 L2066.5,180.6 L2071.3,165.3 L2078.0,155.7 L2089.5,158.6 L2097.2,165.3 L2106.8,180.6 L2116.4,206.6 L2126.0,184.5 L2130.8,163.4 L2135.6,177.8 L2139.8,164.3 L2145.2,175.3 L2147.5,163.4 L2150.4,143.2 L2156.7,143.2" fill="none" stroke="#0000ff" stroke-width="18.4" stroke-linejoin="round" stroke-linecap="butt"/>
<line x1="208" y1="410.7" x2="376" y2="410.7" stroke="#0000ff" stroke-width="18.4" stroke-linecap="round"/>
<line x1="208" y1="505" x2="376" y2="505" stroke="#ff0000" stroke-width="18.4" stroke-linecap="round"/>
<line x1="208" y1="596.9" x2="376" y2="596.9" stroke="#000" stroke-width="18.4" stroke-linecap="round"/>
</g></g>
<line x1="552.8" y1="42" x2="552.8" y2="1474.5" stroke="#ff0000" stroke-width="6.3" stroke-dasharray="24.5 18.17"/>
<line x1="775.1" y1="33.2" x2="775.1" y2="1465.7" stroke="#ff0000" stroke-width="6.3" stroke-dasharray="24.5 18.17"/>
<line x1="1479.6" y1="33.2" x2="1479.6" y2="1465.7" stroke="#ff0000" stroke-width="6.3" stroke-dasharray="24.5 18.17"/>
<line x1="1604.6" y1="33.2" x2="1604.6" y2="1465.7" stroke="#ff0000" stroke-width="6.3" stroke-dasharray="24.5 18.17"/>
<line x1="1763.1" y1="33.2" x2="1763.1" y2="1465.7" stroke="#ff0000" stroke-width="6.3" stroke-dasharray="24.5 18.17"/>
<line x1="1857.8" y1="33.2" x2="1857.8" y2="1465.7" stroke="#ff0000" stroke-width="6.3" stroke-dasharray="24.5 18.17"/>
<text x="392.4" y="435" font-family="'Liberation Sans', sans-serif" font-size="76" fill="#000" textLength="323.2" lengthAdjust="spacingAndGlyphs" stroke="#fff" stroke-width="1.1">TPU Film</text>
<text x="394" y="529.5" font-family="'Liberation Sans', sans-serif" font-size="76" fill="#000" textLength="934" lengthAdjust="spacingAndGlyphs" stroke="#fff" stroke-width="1.1">PEDOT:PSS/nonionic WPU</text>
<text x="394" y="620.5" font-family="'Liberation Sans', sans-serif" font-size="76" fill="#000" textLength="432.4" lengthAdjust="spacingAndGlyphs" stroke="#fff" stroke-width="1.1">PEDOT:PSS</text>
<text transform="translate(161.0,1569) scale(0.885,1.05)" x="0" y="0" font-family="'Liberation Sans', sans-serif" font-size="62.6" letter-spacing="4.2" font-weight="bold" text-anchor="middle" fill="#000">4000</text>
<text transform="translate(453.8,1569) scale(0.885,1.05)" x="0" y="0" font-family="'Liberation Sans', sans-serif" font-size="62.6" letter-spacing="4.2" font-weight="bold" text-anchor="middle" fill="#000">3500</text>
<text transform="translate(746.6,1569) scale(0.885,1.05)" x="0" y="0" font-family="'Liberation Sans', sans-serif" font-size="62.6" letter-spacing="4.2" font-weight="bold" text-anchor="middle" fill="#000">3000</text>
<text transform="translate(1039.4,1569) scale(0.885,1.05)" x="0" y="0" font-family="'Liberation Sans', sans-serif" font-size="62.6" letter-spacing="4.2" font-weight="bold" text-anchor="middle" fill="#000">2500</text>
<text transform="translate(1332.2,1569) scale(0.885,1.05)" x="0" y="0" font-family="'Liberation Sans', sans-serif" font-size="62.6" letter-spacing="4.2" font-weight="bold" text-anchor="middle" fill="#000">2000</text>
<text transform="translate(1625.0,1569) scale(0.885,1.05)" x="0" y="0" font-family="'Liberation Sans', sans-serif" font-size="62.6" letter-spacing="4.2" font-weight="bold" text-anchor="middle" fill="#000">1500</text>
<text transform="translate(1917.8,1569) scale(0.885,1.05)" x="0" y="0" font-family="'Liberation Sans', sans-serif" font-size="62.6" letter-spacing="4.2" font-weight="bold" text-anchor="middle" fill="#000">1000</text>
<text x="806" y="1703" font-family="'Liberation Sans', sans-serif" font-size="75" font-weight="bold" fill="#000">Wavenumber (cm<tspan font-size="51" dy="-24.5">−1</tspan><tspan dy="24.5">)</tspan></text>
<text transform="translate(80.6,1167) rotate(-90) scale(1,1.04)" x="0" y="0" font-family="'Liberation Sans', sans-serif" font-size="75" font-weight="bold" fill="#000">Transmittance (a.u.)</text>
</svg>
</body></html>
